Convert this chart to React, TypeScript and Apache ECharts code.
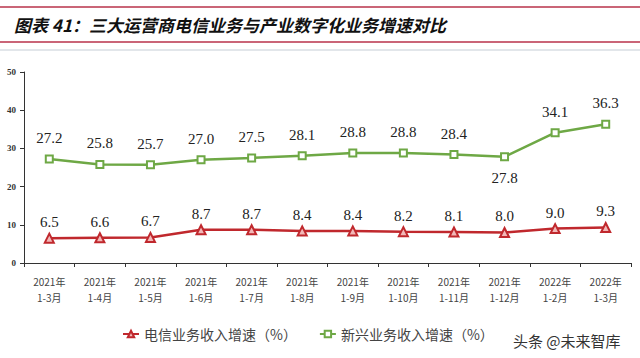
import React, { useEffect, useRef } from "react";
import * as echarts from "echarts";

const categories = [
  "2021年\n1-3月", "2021年\n1-4月", "2021年\n1-5月", "2021年\n1-6月",
  "2021年\n1-7月", "2021年\n1-8月", "2021年\n1-9月", "2021年\n1-10月",
  "2021年\n1-11月", "2021年\n1-12月", "2022年\n1-2月", "2022年\n1-3月",
];
const telecomGrowth = [6.5, 6.6, 6.7, 8.7, 8.7, 8.4, 8.4, 8.2, 8.1, 8.0, 9.0, 9.3];
const emergingGrowth = [27.2, 25.8, 25.7, 27.0, 27.5, 28.1, 28.8, 28.8, 28.4, 27.8, 34.1, 36.3];
const telecomName = "电信业务收入增速（%）";
const emergingName = "新兴业务收入增速（%）";
const title = "图表 41：三大运营商电信业务与产业数字化业务增速对比";
const watermark = "头条 @未来智库";

export default function App() {
  const ref = useRef<HTMLDivElement>(null);
  useEffect(() => {
    const chart = echarts.init(ref.current!, null, { renderer: "svg" });
    const red = "#c0282d";
    const green = "#6ea845";
    const fmt = (p: any) => Number(p.value).toFixed(1);
    chart.setOption({
      animation: false,
      backgroundColor: "#ffffff",
      textStyle: { fontFamily: "Liberation Serif" },
      graphic: [
        { type: "line", shape: { x1: 0, y1: 7, x2: 640, y2: 7 }, style: { stroke: "#b8324a", lineWidth: 1.5 } },
        { type: "line", shape: { x1: 0, y1: 42, x2: 640, y2: 42 }, style: { stroke: "#b8324a", lineWidth: 1.5 } },
        { type: "line", shape: { x1: 0, y1: 50, x2: 640, y2: 50 }, style: { stroke: "#c5cdd6", lineWidth: 1 } },
        {
          type: "text", left: 14, top: 16,
          style: {
            text: title, fill: "#111", font: "italic bold 17px 'Noto Sans CJK SC'",
          },
        },
        {
          type: "text", left: 513, top: 333,
          style: { text: watermark, fill: "#333", font: "15px 'Noto Sans CJK SC'" },
        },
      ],
      grid: { left: 24, right: 9, top: 72, bottom: 95 },
      legend: {
        bottom: 12,
        left: 117,
        itemGap: 22,
        itemWidth: 16,
        itemHeight: 8,
        textStyle: { fontSize: 14, color: "#444", fontFamily: "Noto Sans CJK SC" },
        data: [telecomName, emergingName],
      },
      xAxis: {
        type: "category",
        data: categories,
        axisLine: { lineStyle: { color: "#333", width: 1 } },
        axisTick: { show: true, alignWithLabel: false, length: 4, lineStyle: { color: "#333" } },
        axisLabel: { fontSize: 10, color: "#444", lineHeight: 16, margin: 10, interval: 0, fontFamily: "Noto Sans CJK SC" },
      },
      yAxis: {
        type: "value",
        min: 0,
        max: 50,
        interval: 10,
        splitLine: { show: false },
        axisLine: { show: true, lineStyle: { color: "#333" } },
        axisTick: { show: true, length: 4, lineStyle: { color: "#333" } },
        axisLabel: { fontSize: 9, color: "#333", fontWeight: "bold", margin: 8 },
      },
      series: [
        {
          name: telecomName,
          type: "line",
          data: telecomGrowth,
          symbol: "triangle",
          symbolSize: 9,
          lineStyle: { color: red, width: 2.5 },
          itemStyle: { color: "#f2b8b8", borderColor: red, borderWidth: 2 },
          label: { show: true, position: "top", distance: 3, fontSize: 15, color: "#222", formatter: fmt },
        },
        {
          name: emergingName,
          type: "line",
          data: emergingGrowth.map((v, i) => ({
            value: v,
            label: { position: i === 9 ? "bottom" : "top" },
          })),
          symbol: "rect",
          symbolSize: 7,
          lineStyle: { color: green, width: 2.5 },
          itemStyle: { color: "#ffffff", borderColor: green, borderWidth: 2 },
          label: { show: true, fontSize: 15, color: "#222", distance: 9, formatter: fmt },
        },
      ],
    });
    return () => chart.dispose();
  }, []);
  return <div ref={ref} style={{ position: "absolute", left: 0, top: 0, width: 640, height: 358 }} />;
}
